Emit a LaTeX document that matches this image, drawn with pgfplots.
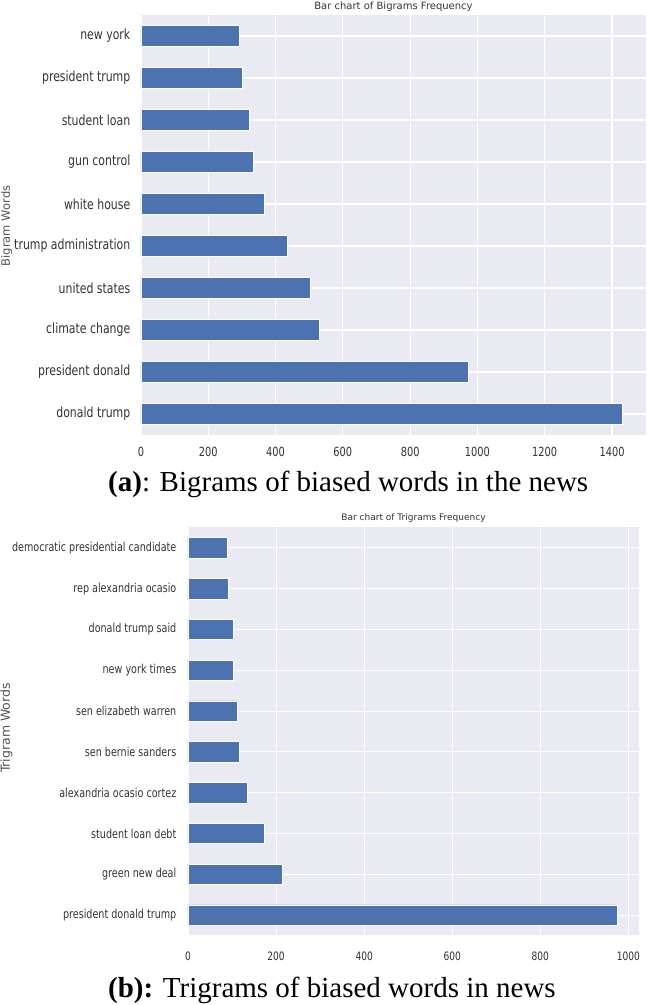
\documentclass[border=0pt]{standalone}
\usepackage{fontspec}
\setmainfont{DejaVu Sans}
\newfontfamily\tickfont{DejaVu Sans}[FakeStretch=0.78]
\newfontfamily\capfont{Liberation Serif}
\usepackage{pgfplots}
\pgfplotsset{compat=1.18}
\definecolor{barblue}{HTML}{4C72B0}
\definecolor{sbbg}{HTML}{EAEAF2}
\definecolor{txt}{HTML}{333333}
\pgfplotsset{sbstyle/.style={
  scale only axis,
  axis background/.style={fill=sbbg},
  axis line style={draw=none},
  xmajorgrids, ymajorgrids,
  grid style={white, line width=1.1pt},
  major tick length=0pt, tick style={draw=none},
  ymin=-0.5, ymax=9.5, ytick={0,...,9}, xmin=0,
  xbar, bar width=0.5,
  scaled x ticks=false,
  /pgf/number format/1000 sep={},
  /pgf/number format/assume math mode=true,
  yticklabel style={text=txt, anchor=east, inner sep=0pt},
  xticklabel style={text=txt, anchor=north, inner sep=0pt},
  every axis title/.style={text=txt, at={(0.5,1)}, anchor=base, inner sep=0pt},
}}
\begin{document}
\begin{tikzpicture}
\useasboundingbox (0,0) rectangle (646pt,1005pt);
% (a) bigrams
\begin{axis}[sbstyle,
  at={(141pt,570pt)}, anchor=south west,
  width=505pt, height=420pt,
  xmax=1501, xtick={0,200,...,1400},
  yticklabels={donald trump,president donald,climate change,united states,trump administration,white house,gun control,student loan,president trump,new york},
  yticklabel style={font=\tickfont\fontsize{14}{15}\selectfont, xshift=-10.5pt},
  xticklabel style={font=\tickfont\fontsize{12.6}{13}\selectfont, yshift=-11.7pt},
  title style={font=\fontsize{10}{11}\selectfont, yshift=5.5pt},
  title={Bar chart of Bigrams Frequency}]
\addplot[fill=barblue, draw=white, line width=0.5pt] coordinates {
  (1430,0) (972,1) (530,2) (502,3) (434,4) (367,5) (333,6) (322,7) (300,8) (293,9)};
\end{axis}
% (b) trigrams
\begin{axis}[sbstyle,
  at={(188pt,69.5pt)}, anchor=south west,
  width=451pt, height=408pt,
  xmax=1024, xtick={0,200,...,1000},
  yticklabels={president donald trump,green new deal,student loan debt,alexandria ocasio cortez,sen bernie sanders,sen elizabeth warren,new york times,donald trump said,rep alexandria ocasio,democratic presidential candidate},
  yticklabel style={font=\tickfont\fontsize{12.3}{13}\selectfont, xshift=-11.5pt},
  xticklabel style={font=\tickfont\fontsize{11.6}{12}\selectfont, yshift=-16pt},
  title style={font=\fontsize{9}{10}\selectfont, yshift=7pt},
  title={Bar chart of Trigrams Frequency}]
\addplot[fill=barblue, draw=white, line width=0.5pt] coordinates {
  (975,0) (214,1) (172,2) (134,3) (116,4) (111,5) (103,6) (102,7) (92,8) (90,9)};
\end{axis}
\node[rotate=90, anchor=base, inner sep=0pt, font=\fontsize{11.5}{12}\selectfont, text=txt!85] at (10pt,779pt) {Bigram Words};
\node[rotate=90, anchor=base, inner sep=0pt, font=\fontsize{12.5}{13}\selectfont, text=txt!85] at (10pt,277pt) {Trigram Words};
\node[anchor=base west, inner sep=0pt, font=\capfont\fontsize{29}{30}\selectfont] at (108pt,513pt) {\textbf{(a)}: Bigrams of biased words in the news};
\node[anchor=base west, inner sep=0pt, font=\capfont\fontsize{29}{30}\selectfont] at (108pt,7pt) {\textbf{(b):} Trigrams of biased words in news};
\end{tikzpicture}
\end{document}
